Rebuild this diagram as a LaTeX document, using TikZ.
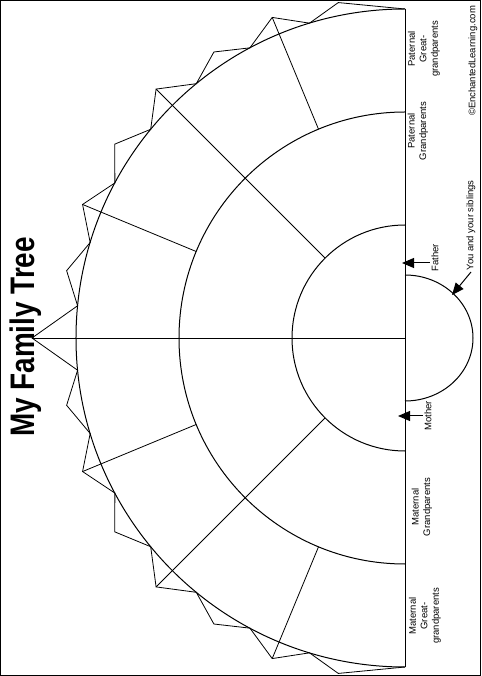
\documentclass[tikz,border=0pt]{standalone}
\usepackage{fontspec}
\setmainfont{Liberation Sans}
\usetikzlibrary{arrows.meta}

\begin{document}
\begin{tikzpicture}[x=1pt,y=1pt,
    ring/.style={line width=1pt},
    zig/.style={line width=0.8pt},
    lbl/.style={rotate=90, align=center, inner sep=1.5pt, font=\fontsize{9.5}{11.5}\selectfont},
    pointer/.style={line width=1pt, -{Triangle[length=12pt,width=10pt]}}]
  \useasboundingbox (-405,-338) rectangle (76,338);
  % Draw the page frame
  \draw[line width=1.5pt] (-404.25,-337.25) rectangle (75.25,337.25);
  % Draw the three half rings and the small half circle
  \foreach \r in {113,226,329}{
    \draw[ring] (90:\r) arc[start angle=90, end angle=270, radius=\r];
  }
  \draw[ring] (0,63) arc[start angle=90, end angle=-90, x radius=68, y radius=63];
  \draw[ring] (90:329) -- (270:329);
  % Draw the spokes
  \draw[zig] (0,0) -- (180:373);
  \foreach \a in {135,225}{
    \draw[zig] (\a:113) -- (\a:352);
  }
  \foreach \a/\r in {112.5/347,157.5/349,202.5/349,247.5/347}{
    \draw[zig] (\a:226) -- (\a:\r);
  }
  % Draw the jagged edge round the outer ring
  \draw[zig] (90:329) -- (101.25:342)
    \foreach \k/\r in {2/347,3/344,4/352,5/349,6/349,7/345,8/373,
                       9/345,10/349,11/349,12/352,13/344,14/347,15/342}{
      -- ({90+(\k-0.5)*11.25}:329) -- ({90+\k*11.25}:\r)
    } -- (270:329);
  % Title
  \node[rotate=90, anchor=base, inner sep=0pt, font=\fontsize{34}{40}\selectfont\bfseries]
    (title) at (-370,1) {\scalebox{0.82}[1]{My Family Tree}};
  % Labels
  \node[lbl] (patgreat) at (19,289) {Paternal\\Great-\\grandparents};
  \node[lbl] (patgrand) at (13,207) {Paternal\\Grandparents};
  \node[lbl] (father) at (30,80) {Father};
  \node[lbl] (mother) at (23,-78) {Mother};
  \node[lbl] (matgrand) at (17,-169) {Maternal\\Grandparents};
  \node[lbl] (matgreat) at (20,-278) {Maternal\\Great-\\grandparents};
  \node[lbl, anchor=west] (siblings) at (66,66) {You and your siblings};
  \node[lbl] (copyright) at (68,277) {©EnchantedLearning.com};
  % Arrows
  \coordinate (fatherpt) at (-3,75);
  \coordinate (motherpt) at (-7,-78);
  \coordinate (siblingpt) at (47,43);
  \draw[pointer] (father.north |- fatherpt) -- (fatherpt);
  \draw[pointer] (mother.north) -- (mother.north -| motherpt);
  \draw[pointer] (siblings.west) -- (siblingpt);
\end{tikzpicture}
\end{document}
